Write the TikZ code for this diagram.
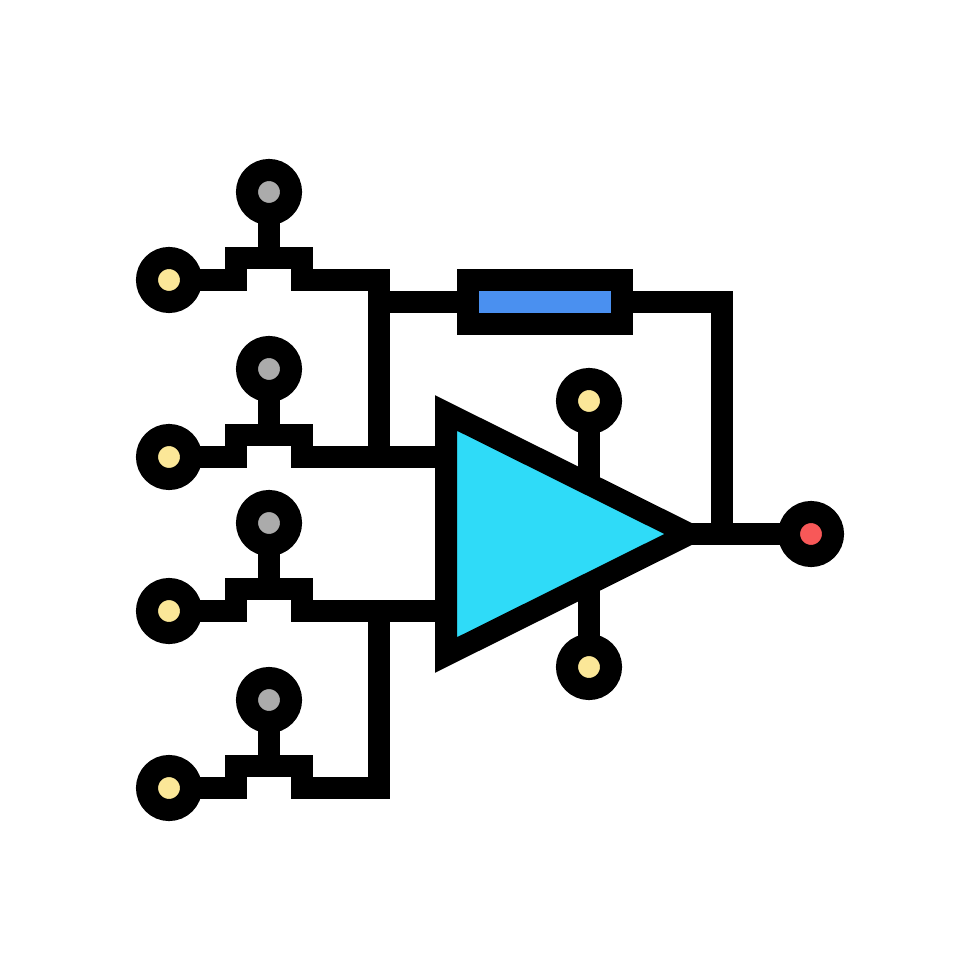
\documentclass[tikz,border=0pt]{standalone}
\usepackage{tikz}
\definecolor{padyellow}{HTML}{FBE798}
\definecolor{padgray}{HTML}{ABABAB}
\definecolor{padred}{HTML}{F85858}
\definecolor{ampcyan}{HTML}{2FDBF8}
\definecolor{resblue}{HTML}{4A90F0}
\tikzset{
	wire/.style = {line width = 0.22cm, line join = miter, shorten <= -0.05cm, shorten >= -0.05cm},
	pad/.style = {circle, draw, line width = 0.22cm, minimum size = 0.44cm, inner sep = 0pt},
}
\begin{document}
\begin{tikzpicture}[x = 0.01cm, y = -0.01cm]
		\useasboundingbox (0, 0) rectangle (980, 980);
		%%%%%%%%%%%%%
		\coordinate (ampa) at (446, 413);
		\coordinate (ampb) at (446, 655);
		\coordinate (ampc) at (689, 534);
		\coordinate (inb) at (446, 457);
		\coordinate (inc) at (446, 611);
		\coordinate (ampu) at (589, 484);
		\coordinate (ampd) at (589, 584);
		\coordinate (fb) at (722, 534);
		\coordinate (j1) at (379, 280);
		\coordinate (j2) at (379, 457);
		\coordinate (j3) at (379, 611);
		\coordinate (j4) at (379, 788);
		\coordinate (j5) at (379, 302);
		%%%%%%%%%%%%%
		\node [rectangle, draw, line width = 0.22cm, fill = resblue, minimum width = 1.54cm, minimum height = 0.44cm, inner sep = 0pt] (r1) at (545, 302) {};
		\node [pad, fill = padyellow] (p1) at (589, 401) {};
		\node [pad, fill = padyellow] (p2) at (589, 667) {};
		\node [pad, fill = padred] (out) at (811, 534) {};
		\foreach \i/\y in {1/280, 2/457, 3/611, 4/788} {
			\node [pad, fill = padyellow] (y\i) at (169, \y) {};
			\node [pad, fill = padgray] (g\i) at (269, \y - 88) {};
			\draw [wire] (g\i) to (269, \y - 22);
		}
		%%%%%%%%%%%%%
		\draw [wire] (y1.east) -| (236, 258) -| (302, 280) -- (j1) -- (j2);
		\draw [wire] (y2.east) -| (236, 435) -| (302, 457) -- (inb);
		\draw [wire] (y3.east) -| (236, 589) -| (302, 611) -- (inc);
		\draw [wire] (y4.east) -| (236, 766) -| (302, 788) -- (j4) -- (j3);
		\draw [wire] (j5) to (r1.west);
		\draw [wire] (r1.east) -| (fb);
		\draw [wire] (p1) to (ampu);
		\draw [wire] (p2) to (ampd);
		\draw [wire, fill = ampcyan] (ampa) -- (ampb) -- (ampc) -- cycle;
		\draw [wire] (ampc) to (out);
\end{tikzpicture}
\end{document}
